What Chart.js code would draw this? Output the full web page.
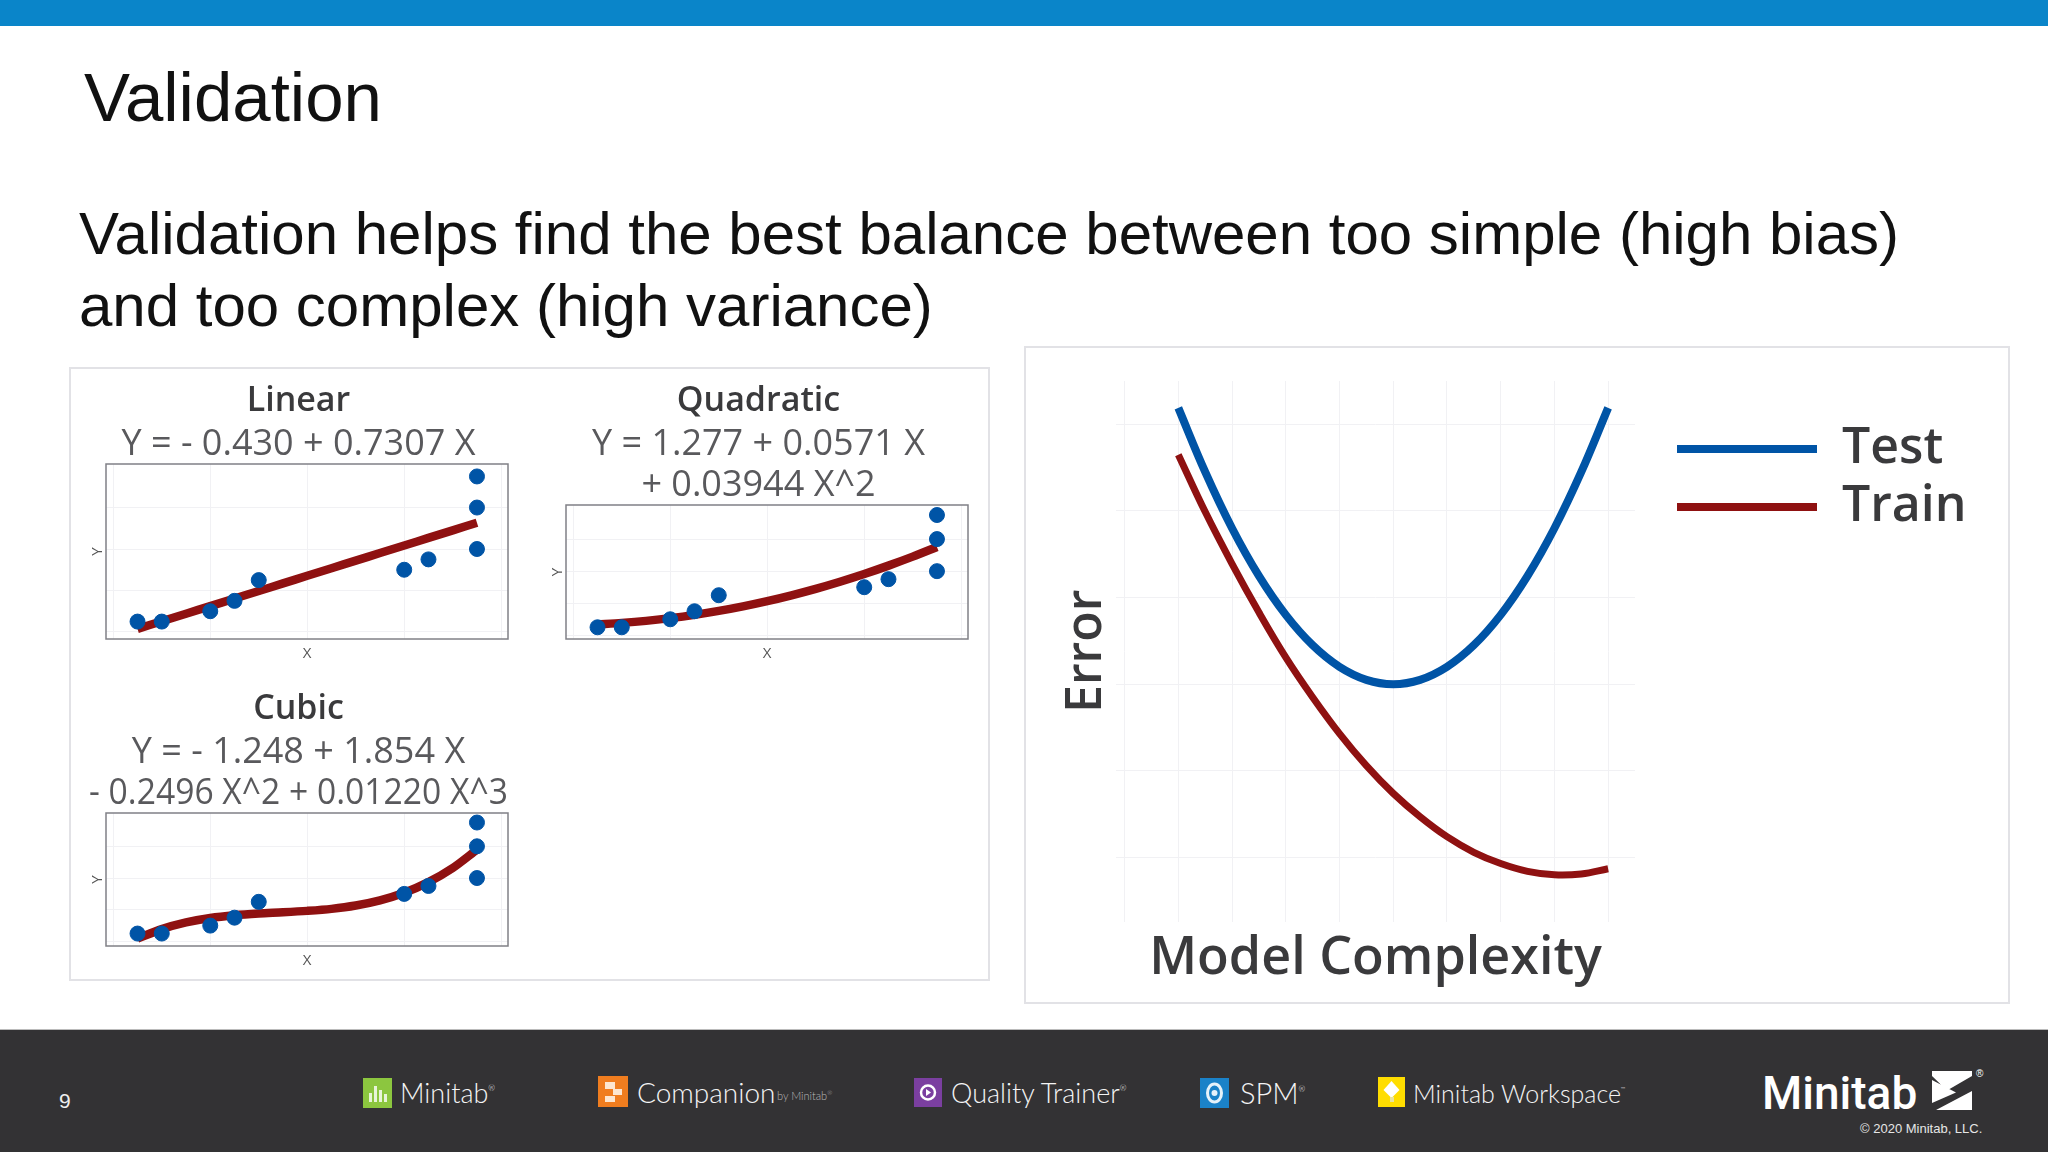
<!DOCTYPE html>
<html>
<head>
<meta charset="utf-8">
<title>Validation</title>
<script src="https://cdn.jsdelivr.net/npm/chart.js@4"></script>
<style>
  html, body { margin: 0; padding: 0; background: #fff; }
  #slide { position: relative; width: 2048px; height: 1152px; overflow: hidden; font-family: "Liberation Sans", Arial, sans-serif; }
  #slide > * { position: absolute; }
  .panel { border: 2px solid #e2e2e6; box-sizing: border-box; }
  .logoText { font-family: Lato, sans-serif; font-weight: 300; color: #f4f4f4; font-size: 27px; line-height: 36px; white-space: nowrap; }
  .logoText sup { line-height: 0; font-size: 8px; vertical-align: 12px; }
  .icon { display: block; }
</style>
</head>
<body>
<div id="slide">
  <div style="left:0;top:0;width:2048px;height:26px;background:#0a85c9"></div>
  <div style="left:84px;top:58px;font-size:69px;line-height:80px;color:#111">Validation</div>
  <div style="left:79px;top:198px;font-size:60px;line-height:72px;color:#111;white-space:nowrap">Validation helps find the best balance between too simple (high bias)<br>and too complex (high variance)</div>

  <div class="panel" style="left:69px;top:367px;width:921px;height:614px"></div>
  <div class="panel" style="left:1024px;top:346px;width:986px;height:658px"></div>

  <canvas id="linearChart" width="457" height="288" style="left:70px;top:375px"></canvas>
  <canvas id="quadraticChart" width="457" height="288" style="left:530px;top:375px"></canvas>
  <canvas id="cubicChart" width="457" height="287" style="left:70px;top:683px"></canvas>
  <canvas id="errorChart" width="975" height="650" style="left:1030px;top:350px"></canvas>

  <div style="left:0;top:1029px;width:2048px;height:123px;background:#333234;border-top:1px solid #bbb;box-sizing:border-box"></div>
  <div style="left:59px;top:1089px;font-size:21px;line-height:24px;color:#eee">9</div>

  <svg class="icon" style="left:363px;top:1078px" width="29" height="30"><rect width="29" height="30" fill="#8cc63f"/><path d="M6 24V15h3v9zM11 24V8h3v16zM16 24V12h3v12zM21 24V16h3v8z" fill="#e8f4d8"/></svg>
  <div class="logoText" style="left:400px;top:1075px">Minitab<sup>®</sup></div>

  <svg class="icon" style="left:598px;top:1076px" width="30" height="31"><rect width="30" height="31" fill="#f07d1f"/><path d="M7 6h10v7H7zM15 13h9v6h-9zM7 20h10v6H7z" fill="#fde6d0"/></svg>
  <div class="logoText" style="left:637px;top:1074px;font-size:28px">Companion</div>
  <div class="logoText" style="left:777px;top:1078px;font-size:11px;color:#bbb">by Minitab<sup style="font-size:6px;vertical-align:5px">®</sup></div>

  <svg class="icon" style="left:914px;top:1078px" width="28" height="29"><rect width="28" height="29" fill="#7b3fa0"/><circle cx="14" cy="14.5" r="7" fill="none" stroke="#fff" stroke-width="2.5"/><path d="M12 11l5 3.5-5 3.5z" fill="#fff"/></svg>
  <div class="logoText" style="left:951px;top:1075px">Quality Trainer<sup>®</sup></div>

  <svg class="icon" style="left:1200px;top:1078px" width="29" height="30"><rect width="29" height="30" fill="#1b82c8"/><ellipse cx="14.5" cy="15" rx="7" ry="9" fill="none" stroke="#e6f2fa" stroke-width="3"/><circle cx="14.5" cy="15" r="3" fill="#e6f2fa"/></svg>
  <div class="logoText" style="left:1240px;top:1075px;font-size:29px">SPM<sup>®</sup></div>

  <svg class="icon" style="left:1378px;top:1077px" width="27" height="30"><rect width="27" height="30" fill="#ffdd00"/><path d="M13.5 4l8 9-8 8-8-8z" fill="#fff"/><path d="M12 20h4v5h-4z" fill="#e8e2a0"/></svg>
  <div class="logoText" style="left:1413px;top:1075px;font-size:25px">Minitab Workspace<sup style="font-size:6px">™</sup></div>

  <div style="left:1762px;top:1067px;font-family:Roboto,sans-serif;font-weight:500;font-size:46px;line-height:52px;color:#fff">Minitab</div>
  <svg class="icon" style="left:1932px;top:1071px" width="40" height="39"><path d="M0 0H40V5L15 19.5 0 5zM0 9L24 21.5 0 32zM40 20V39H4z" fill="#fff"/></svg>
  <div style="left:1976px;top:1068px;font-size:10px;color:#fff">®</div>
  <div style="left:1860px;top:1121px;font-size:13px;line-height:16px;color:#e6e6e6;white-space:nowrap">© 2020 Minitab, LLC.</div>
</div>

<script>
// data points shared by the three fit plots
const dataX = [1, 2, 4, 5, 6, 12, 13, 15, 15, 15];
const dataY = [1, 1, 2, 3, 5, 6, 7, 8, 12, 15];

// fitted lines, read at whole X values
const fitX = [1, 2, 3, 4, 5, 6, 7, 8, 9, 10, 11, 12, 13, 14, 15];
const linearFit = [0.30, 1.03, 1.76, 2.49, 3.22, 3.95, 4.68, 5.42, 6.15, 6.88, 7.61, 8.34, 9.07, 9.80, 10.53];
const quadraticFit = [1.37, 1.55, 1.80, 2.14, 2.55, 3.04, 3.61, 4.26, 4.99, 5.79, 6.68, 7.64, 8.69, 9.81, 11.01];
const cubicFit = [0.37, 1.56, 2.40, 2.96, 3.31, 3.53, 3.68, 3.86, 4.11, 4.53, 5.18, 6.14, 7.48, 9.26, 11.58];

const fitGridX = [0, 4, 8, 12, 16];
const fitGridY = [0, 4, 8, 12];

// error curves
const complexity = [0, 0.5, 1, 1.5, 2, 2.5, 3, 3.5, 4, 4.5, 5, 5.5, 6, 6.5, 7, 7.5, 8];
const testError = [5.19, 4.45, 3.8, 3.25, 2.8, 2.45, 2.2, 2.05, 2, 2.05, 2.2, 2.45, 2.8, 3.25, 3.8, 4.45, 5.19];
const trainError = [4.65, 3.99, 3.39, 2.83, 2.31, 1.85, 1.43, 1.06, 0.74, 0.47, 0.24, 0.06, -0.07, -0.16, -0.2, -0.19, -0.13];
const errorGridX = [-1, 0, 1, 2, 3, 4, 5, 6, 7, 8];
const errorGridY = [0, 1, 2, 3, 4, 5];

const BLUE = '#0054a6';
const RED = '#8f1111';
const GRID = '#f1f1f4';
const FONT = '"Open Sans", sans-serif';

function toXY(xs, ys) {
    return xs.map((x, i) => ({ x: x, y: ys[i] }));
}

function useTicks(values) {
    return axis => { axis.ticks = values.map(v => ({ value: v })); };
}

// grey frame around the small plots
const framePlugin = {
    id: 'frame',
    afterDraw(chart) {
        const a = chart.chartArea;
        chart.ctx.save();
        chart.ctx.strokeStyle = '#808086';
        chart.ctx.lineWidth = 1.5;
        chart.ctx.strokeRect(a.left, a.top, a.width, a.height);
        chart.ctx.restore();
    }
};

// legend sits away from the plot, level with the top of the curves
const legendShift = {
    id: 'legendShift',
    afterLayout(chart) {
        const l = chart.legend;
        l.left += 34;
        l.right += 34;
        l.top += 35;
        l.bottom += 35;
    }
};

function fitChart(id, name, equation, fit, yMin, yMax) {
    new Chart(document.getElementById(id), {
        type: 'scatter',
        data: {
            datasets: [
                { data: toXY(dataX, dataY), backgroundColor: BLUE, borderColor: BLUE, pointRadius: 7.5 },
                { data: toXY(fitX, fit), showLine: true, borderColor: RED, borderWidth: 8.5, pointRadius: 0, tension: 0.3 }
            ]
        },
        options: {
            responsive: false,
            animation: false,
            layout: { padding: { left: 19, right: 19 } },
            plugins: {
                legend: { display: false },
                tooltip: { enabled: false },
                title: {
                    display: true,
                    text: name,
                    color: '#3a3a3c',
                    font: { family: FONT, size: 34, weight: '600', lineHeight: 1.2 },
                    padding: { top: 5.8, bottom: 2.4 }
                },
                subtitle: {
                    display: true,
                    text: equation,
                    color: '#59595c',
                    font: { family: FONT, size: 36, weight: '400', lineHeight: 41 / 36 },
                    padding: { top: 0, bottom: -1 }
                }
            },
            scales: {
                x: {
                    min: -0.3,
                    max: 16.28,
                    afterBuildTicks: useTicks(fitGridX),
                    ticks: { display: false },
                    grid: { color: GRID, drawTicks: false },
                    border: { display: false },
                    title: { display: true, text: 'X', color: '#555', font: { family: FONT, size: 15 }, padding: { top: 6, bottom: 0 } }
                },
                y: {
                    min: yMin,
                    max: yMax,
                    afterBuildTicks: useTicks(fitGridY),
                    ticks: { display: false },
                    grid: { color: GRID, drawTicks: false },
                    border: { display: false },
                    title: { display: true, text: 'Y', color: '#555', font: { family: FONT, size: 15 }, padding: { top: 0, bottom: -1 } }
                }
            }
        },
        plugins: [framePlugin]
    });
}

fitChart('linearChart', 'Linear', ['Y = - 0.430 + 0.7307 X'], linearFit, -0.68, 16.2);
fitChart('quadraticChart', 'Quadratic', ['Y = 1.277 + 0.0571 X', '+ 0.03944 X^2'], quadraticFit, -0.46, 16.25);
fitChart('cubicChart', 'Cubic', ['Y = - 1.248 + 1.854 X', '- 0.2496 X^2 + 0.01220 X^3'], cubicFit, -0.57, 16.2);

new Chart(document.getElementById('errorChart'), {
    type: 'scatter',
    data: {
        datasets: [
            { label: 'Test', data: toXY(complexity, testError), showLine: true, borderColor: BLUE, backgroundColor: BLUE, borderWidth: 8, pointRadius: 0, tension: 0.4 },
            { label: 'Train', data: toXY(complexity, trainError), showLine: true, borderColor: RED, backgroundColor: RED, borderWidth: 7, pointRadius: 0, tension: 0.4 }
        ]
    },
    options: {
        responsive: false,
        animation: false,
        layout: { padding: { left: 27, right: 74, top: 31, bottom: 10 } },
        plugins: {
            tooltip: { enabled: false },
            legend: {
                position: 'right',
                align: 'start',
                maxWidth: 296,
                labels: {
                    boxWidth: 140,
                    boxHeight: 8,
                    padding: 8,
                    color: '#3a3a3c',
                    font: { family: FONT, size: 50, weight: '600' },
                    generateLabels: chart => Chart.defaults.plugins.legend.labels.generateLabels(chart).map(item => ({ ...item, lineWidth: 0 }))
                }
            }
        },
        scales: {
            x: {
                min: -1.16,
                max: 8.5,
                afterBuildTicks: useTicks(errorGridX),
                ticks: { display: false },
                grid: { color: GRID, drawTicks: false },
                border: { display: false },
                title: { display: true, text: 'Model Complexity', color: '#3a3a3c', font: { family: FONT, size: 52, weight: '600', lineHeight: 1.2 }, padding: { top: 6, bottom: 0 } }
            },
            y: {
                min: -0.74,
                max: 5.5,
                afterBuildTicks: useTicks(errorGridY),
                ticks: { display: false },
                grid: { color: GRID, drawTicks: false },
                border: { display: false },
                title: { display: true, text: 'Error', color: '#3a3a3c', font: { family: FONT, size: 50, weight: '600', lineHeight: 1.2 }, padding: { top: 0, bottom: -1 } }
            }
        }
    },
    plugins: [legendShift]
});
</script>
</body>
</html>
